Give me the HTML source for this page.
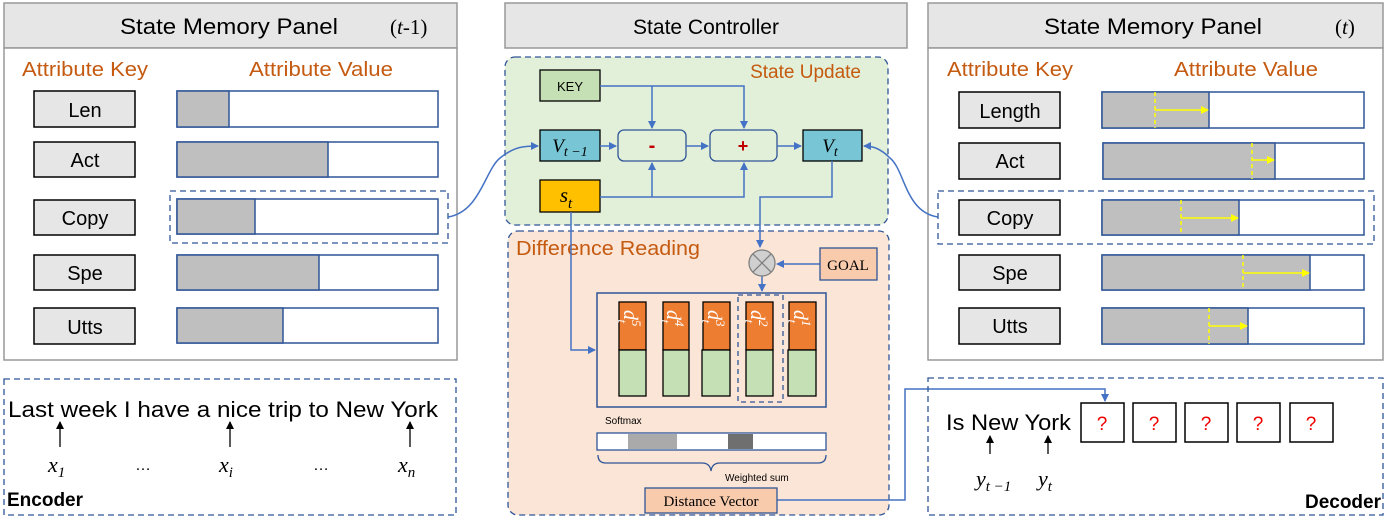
<!DOCTYPE html>
<html><head><meta charset="utf-8"><style>body{margin:0;background:#fff}svg{display:block}</style></head><body>
<svg width="1388" height="519" viewBox="0 0 1388 519" xmlns="http://www.w3.org/2000/svg" font-family="Liberation Sans, sans-serif">
<defs>
<marker id="a" markerWidth="8" markerHeight="8" refX="7" refY="4" orient="auto" markerUnits="userSpaceOnUse"><path d="M0,0 L8,4 L0,8 z" fill="#4472c4"/></marker>
<marker id="k" markerWidth="8" markerHeight="8" refX="7" refY="4" orient="auto" markerUnits="userSpaceOnUse"><path d="M0,0 L8,4 L0,8 z" fill="#000"/></marker>
<marker id="y" markerWidth="8" markerHeight="8" refX="7" refY="4" orient="auto" markerUnits="userSpaceOnUse"><path d="M0,0 L8,4 L0,8 z" fill="#ffff00"/></marker>
</defs>
<!-- Left panel -->
<rect x="4" y="3" width="453" height="45" fill="#e6e6e6" stroke="#999" stroke-width="1.5"/>
<rect x="4" y="48" width="453" height="312" fill="#fff" stroke="#999" stroke-width="1.5"/>
<text x="120" y="34" font-size="22" textLength="218" lengthAdjust="spacingAndGlyphs">State Memory Panel</text>
<text x="390" y="34" font-size="21" font-family="Liberation Serif, serif">(<tspan font-style="italic">t</tspan>-1)</text>
<text x="22" y="76" font-size="20" fill="#c55a11" textLength="126" lengthAdjust="spacingAndGlyphs">Attribute Key</text>
<text x="249" y="76" font-size="20" fill="#c55a11" textLength="144" lengthAdjust="spacingAndGlyphs">Attribute Value</text>
<g stroke="#000" stroke-width="1.5" fill="#e6e6e6">
<rect x="34" y="91" width="101" height="36"/><rect x="34" y="142" width="101" height="35"/><rect x="34" y="200" width="101" height="35"/><rect x="34" y="255" width="101" height="35"/><rect x="34" y="308" width="101" height="36"/>
</g>
<g font-size="20" text-anchor="middle"><text x="85" y="117">Len</text><text x="85" y="167">Act</text><text x="85" y="225">Copy</text><text x="85" y="280">Spe</text><text x="85" y="334">Utts</text></g>
<g stroke="#2f5597" stroke-width="1.5">
<rect x="177" y="91" width="261" height="36" fill="#fff"/><rect x="177" y="91" width="52" height="36" fill="#bfbfbf"/>
<rect x="177" y="142" width="261" height="35" fill="#fff"/><rect x="177" y="142" width="151" height="35" fill="#bfbfbf"/>
<rect x="177" y="199" width="261" height="35" fill="#fff"/><rect x="177" y="199" width="78" height="35" fill="#bfbfbf"/>
<rect x="177" y="255" width="261" height="35" fill="#fff"/><rect x="177" y="255" width="142" height="35" fill="#bfbfbf"/>
<rect x="177" y="308" width="261" height="35" fill="#fff"/><rect x="177" y="308" width="106" height="35" fill="#bfbfbf"/>
</g>
<rect x="170" y="191" width="278" height="52" fill="none" stroke="#2f5597" stroke-width="1.3" stroke-dasharray="6,4"/>
<!-- Right panel -->
<rect x="928" y="3" width="455" height="45" fill="#e6e6e6" stroke="#999" stroke-width="1.5"/>
<rect x="928" y="48" width="455" height="312" fill="#fff" stroke="#999" stroke-width="1.5"/>
<text x="1044" y="34" font-size="22" textLength="218" lengthAdjust="spacingAndGlyphs">State Memory Panel</text>
<text x="1335" y="34" font-size="21" font-family="Liberation Serif, serif">(<tspan font-style="italic">t</tspan>)</text>
<text x="947" y="76" font-size="20" fill="#c55a11" textLength="126" lengthAdjust="spacingAndGlyphs">Attribute Key</text>
<text x="1174" y="76" font-size="20" fill="#c55a11" textLength="144" lengthAdjust="spacingAndGlyphs">Attribute Value</text>
<g stroke="#000" stroke-width="1.5" fill="#e6e6e6">
<rect x="959" y="92" width="101" height="36"/><rect x="959" y="143" width="101" height="36"/><rect x="959" y="200" width="101" height="35"/><rect x="959" y="255" width="101" height="35"/><rect x="959" y="308" width="101" height="36"/>
</g>
<g font-size="20" text-anchor="middle"><text x="1010" y="118">Length</text><text x="1010" y="168">Act</text><text x="1010" y="225">Copy</text><text x="1010" y="280">Spe</text><text x="1010" y="333">Utts</text></g>
<g stroke="#2f5597" stroke-width="1.5">
<rect x="1102" y="92" width="262" height="36" fill="#fff"/><rect x="1102" y="92" width="107" height="36" fill="#bfbfbf"/>
<rect x="1103" y="143" width="261" height="36" fill="#fff"/><rect x="1103" y="143" width="172" height="36" fill="#bfbfbf"/>
<rect x="1102" y="200" width="262" height="35" fill="#fff"/><rect x="1102" y="200" width="137" height="35" fill="#bfbfbf"/>
<rect x="1102" y="255" width="262" height="35" fill="#fff"/><rect x="1102" y="255" width="208" height="35" fill="#bfbfbf"/>
<rect x="1102" y="308" width="262" height="36" fill="#fff"/><rect x="1102" y="308" width="146" height="36" fill="#bfbfbf"/>
</g>
<g stroke="#ffff00" stroke-width="1.5">
<line x1="1155" y1="92" x2="1155" y2="128" stroke-dasharray="4,3"/><line x1="1155" y1="110" x2="1208" y2="110" marker-end="url(#y)"/>
<line x1="1252" y1="143" x2="1252" y2="179" stroke-dasharray="4,3"/><line x1="1252" y1="160" x2="1274" y2="160" marker-end="url(#y)"/>
<line x1="1181" y1="200" x2="1181" y2="235" stroke-dasharray="4,3"/><line x1="1181" y1="218" x2="1238" y2="218" marker-end="url(#y)"/>
<line x1="1243" y1="255" x2="1243" y2="290" stroke-dasharray="4,3"/><line x1="1243" y1="273" x2="1309" y2="273" marker-end="url(#y)"/>
<line x1="1209" y1="308" x2="1209" y2="344" stroke-dasharray="4,3"/><line x1="1209" y1="326" x2="1247" y2="326" marker-end="url(#y)"/>
</g>
<rect x="938" y="191" width="436" height="53" fill="none" stroke="#2f5597" stroke-width="1.3" stroke-dasharray="6,4"/>
<!-- Center -->
<rect x="505" y="3" width="402" height="45" fill="#e6e6e6" stroke="#999" stroke-width="1.5"/>
<text x="706" y="34" font-size="21" text-anchor="middle">State Controller</text>
<rect x="505" y="57" width="383" height="168" rx="10" fill="#e2efd9" stroke="#2f5597" stroke-width="1.3" stroke-dasharray="6,4"/>
<text x="861" y="78" font-size="19" fill="#c55a11" text-anchor="end">State Update</text>
<rect x="508" y="231" width="381" height="284" rx="10" fill="#fbe5d6" stroke="#2f5597" stroke-width="1.3" stroke-dasharray="6,4"/>
<text x="516" y="255" font-size="20" fill="#c55a11" textLength="184" lengthAdjust="spacingAndGlyphs">Difference Reading</text>
<rect x="540" y="70" width="60" height="31" fill="#c5e0b4" stroke="#000" stroke-width="1.3"/>
<text x="570" y="91" font-size="13" text-anchor="middle">KEY</text>
<rect x="540" y="130" width="60" height="31" fill="#77c5d5" stroke="#000" stroke-width="1.3"/>
<text x="570" y="152" font-size="19" font-family="Liberation Serif, serif" font-style="italic" text-anchor="middle">V<tspan font-size="14" dy="4">t −1</tspan></text>
<rect x="540" y="180" width="60" height="32" fill="#ffc000" stroke="#000" stroke-width="1.3"/>
<text x="566" y="202" font-size="21" font-family="Liberation Serif, serif" font-style="italic" text-anchor="middle">s<tspan font-size="15" dy="6">t</tspan></text>
<rect x="618" y="130" width="68" height="31" rx="6" fill="#e2efd9" stroke="#2f5597" stroke-width="1.3"/>
<text x="652" y="152" font-size="20" fill="#c00000" font-weight="bold" text-anchor="middle">-</text>
<rect x="710" y="130" width="67" height="31" rx="6" fill="#e2efd9" stroke="#2f5597" stroke-width="1.3"/>
<text x="743" y="152" font-size="18" fill="#c00000" font-weight="bold" text-anchor="middle">+</text>
<rect x="803" y="130" width="59" height="31" fill="#77c5d5" stroke="#000" stroke-width="1.3"/>
<text x="830" y="152" font-size="19" font-family="Liberation Serif, serif" font-style="italic" text-anchor="middle">V<tspan font-size="14" dy="4">t</tspan></text>
<g stroke="#4472c4" stroke-width="1.5" fill="none">
<polyline points="600,86 744,86 744,128" marker-end="url(#a)"/>
<line x1="652" y1="86" x2="652" y2="128" marker-end="url(#a)"/>
<line x1="600" y1="146" x2="616" y2="146" marker-end="url(#a)"/>
<line x1="686" y1="146" x2="708" y2="146" marker-end="url(#a)"/>
<line x1="777" y1="146" x2="801" y2="146" marker-end="url(#a)"/>
<polyline points="600,197 744,197 744,163" marker-end="url(#a)"/>
<line x1="652" y1="197" x2="652" y2="163" marker-end="url(#a)"/>
<polyline points="571,212 571,350 595,350" marker-end="url(#a)"/>
<polyline points="832,161 832,197 760,197 760,247" marker-end="url(#a)"/>
<line x1="820" y1="264" x2="777" y2="264" marker-end="url(#a)"/>
<line x1="762" y1="276" x2="762" y2="291" marker-end="url(#a)"/>
<path d="M448,217 C480,212 485,170 500,158 C515,146 525,146 538,146" marker-end="url(#a)"/>
<path d="M938,217 C905,212 905,170 890,158 C880,148 872,146 864,146" marker-end="url(#a)"/>
<polyline points="777,500 905,500 905,389 1105,389 1105,401" marker-end="url(#a)"/>
</g>
<rect x="820" y="248" width="57" height="32" fill="#f8cbad" stroke="#2f5597" stroke-width="1.3"/>
<text x="848" y="270" font-size="15" font-family="Liberation Serif, serif" text-anchor="middle">GOAL</text>
<circle cx="762" cy="263" r="13" fill="#d0d0d0" stroke="#7f7f7f" stroke-width="1.3"/>
<path d="M753,254 L771,272 M771,254 L753,272" stroke="#7f7f7f" stroke-width="1.3"/>
<rect x="597" y="293" width="229" height="114" fill="none" stroke="#2f5597" stroke-width="1.5"/>
<g stroke="#000" stroke-width="1.3">
<rect x="619" y="302" width="27" height="48" fill="#ed7d31"/><rect x="619" y="350" width="27" height="46" fill="#c5e0b4"/>
<rect x="663" y="302" width="26" height="48" fill="#ed7d31"/><rect x="663" y="350" width="26" height="46" fill="#c5e0b4"/>
<rect x="703" y="302" width="27" height="48" fill="#ed7d31"/><rect x="702" y="350" width="28" height="46" fill="#c5e0b4"/>
<rect x="746" y="302" width="27" height="48" fill="#ed7d31"/><rect x="746" y="350" width="27" height="46" fill="#c5e0b4"/>
<rect x="789" y="302" width="27" height="48" fill="#ed7d31"/><rect x="788" y="350" width="28" height="46" fill="#c5e0b4"/>
</g>
<rect x="738" y="295" width="45" height="107" fill="none" stroke="#2f5597" stroke-width="1.3" stroke-dasharray="5,4"/>
<g font-family="Liberation Serif, serif" font-style="italic" font-size="20" fill="#fff">
<text transform="translate(624,310) rotate(90)">d<tspan font-size="13" dy="-8">5</tspan><tspan font-size="13" dx="-7" dy="14">t</tspan></text>
<text transform="translate(667,310) rotate(90)">d<tspan font-size="13" dy="-8">4</tspan><tspan font-size="13" dx="-7" dy="14">t</tspan></text>
<text transform="translate(708,310) rotate(90)">d<tspan font-size="13" dy="-8">3</tspan><tspan font-size="13" dx="-7" dy="14">t</tspan></text>
<text transform="translate(751,310) rotate(90)">d<tspan font-size="13" dy="-8">2</tspan><tspan font-size="13" dx="-7" dy="14">t</tspan></text>
<text transform="translate(794,310) rotate(90)">d<tspan font-size="13" dy="-8">1</tspan><tspan font-size="13" dx="-7" dy="14">t</tspan></text>
</g>
<text x="605" y="424" font-size="10">Softmax</text>
<rect x="597" y="433" width="229" height="17" fill="#fff" stroke="#2f5597" stroke-width="1.3"/>
<rect x="628" y="434" width="49" height="15" fill="#aaa"/>
<rect x="728" y="434" width="25" height="15" fill="#6f6f6f"/>
<path d="M598,455 Q598,463 606,463 L702,463 Q710,463 711,471 Q712,463 720,463 L818,463 Q826,463 826,455" fill="none" stroke="#2f5597" stroke-width="1.3"/>
<text x="725" y="481" font-size="10">Weighted sum</text>
<rect x="645" y="488" width="132" height="25" fill="#f8cbad" stroke="#2f5597" stroke-width="1.3"/>
<text x="711" y="506" font-size="15" font-family="Liberation Serif, serif" text-anchor="middle">Distance Vector</text>
<!-- Encoder -->
<rect x="4" y="379" width="452" height="136" fill="none" stroke="#2f5597" stroke-width="1.3" stroke-dasharray="6,4"/>
<text x="8" y="417" font-size="22" textLength="430" lengthAdjust="spacingAndGlyphs">Last week I have a nice trip to New York</text>
<g stroke="#000" stroke-width="1.3"><line x1="60" y1="447" x2="60" y2="422" marker-end="url(#k)"/><line x1="230" y1="447" x2="230" y2="422" marker-end="url(#k)"/><line x1="410" y1="447" x2="410" y2="422" marker-end="url(#k)"/></g>
<g font-family="Liberation Serif, serif" font-style="italic" font-size="22"><text x="48" y="472">x<tspan font-size="15" dy="5">1</tspan></text><text x="219" y="472">x<tspan font-size="15" dy="5">i</tspan></text><text x="398" y="472">x<tspan font-size="15" dy="5">n</tspan></text></g>
<text x="135" y="470" font-size="16">…</text><text x="313" y="470" font-size="16">…</text>
<text x="7" y="506" font-size="19" font-weight="bold">Encoder</text>
<!-- Decoder -->
<rect x="928" y="378" width="455" height="137" fill="none" stroke="#2f5597" stroke-width="1.3" stroke-dasharray="6,4"/>
<text x="946" y="430" font-size="22" textLength="125" lengthAdjust="spacingAndGlyphs">Is New York</text>
<g stroke="#000" stroke-width="1.5" fill="#fff">
<rect x="1081" y="403" width="43" height="39"/><rect x="1133" y="403" width="43" height="39"/><rect x="1185" y="403" width="43" height="39"/><rect x="1237" y="403" width="43" height="39"/><rect x="1290" y="403" width="43" height="39"/>
</g>
<g fill="#e00" font-size="19" text-anchor="middle"><text x="1102" y="430">?</text><text x="1154" y="430">?</text><text x="1206" y="430">?</text><text x="1258" y="430">?</text><text x="1311" y="430">?</text></g>
<g stroke="#000" stroke-width="1.3"><line x1="990" y1="454" x2="990" y2="436" marker-end="url(#k)"/><line x1="1048" y1="454" x2="1048" y2="436" marker-end="url(#k)"/></g>
<g font-family="Liberation Serif, serif" font-style="italic" font-size="22"><text x="976" y="486">y<tspan font-size="15" dy="5">t −1</tspan></text><text x="1038" y="486">y<tspan font-size="15" dy="5">t</tspan></text></g>
<text x="1381" y="508" font-size="19" font-weight="bold" text-anchor="end">Decoder</text>
</svg>
</body></html>
